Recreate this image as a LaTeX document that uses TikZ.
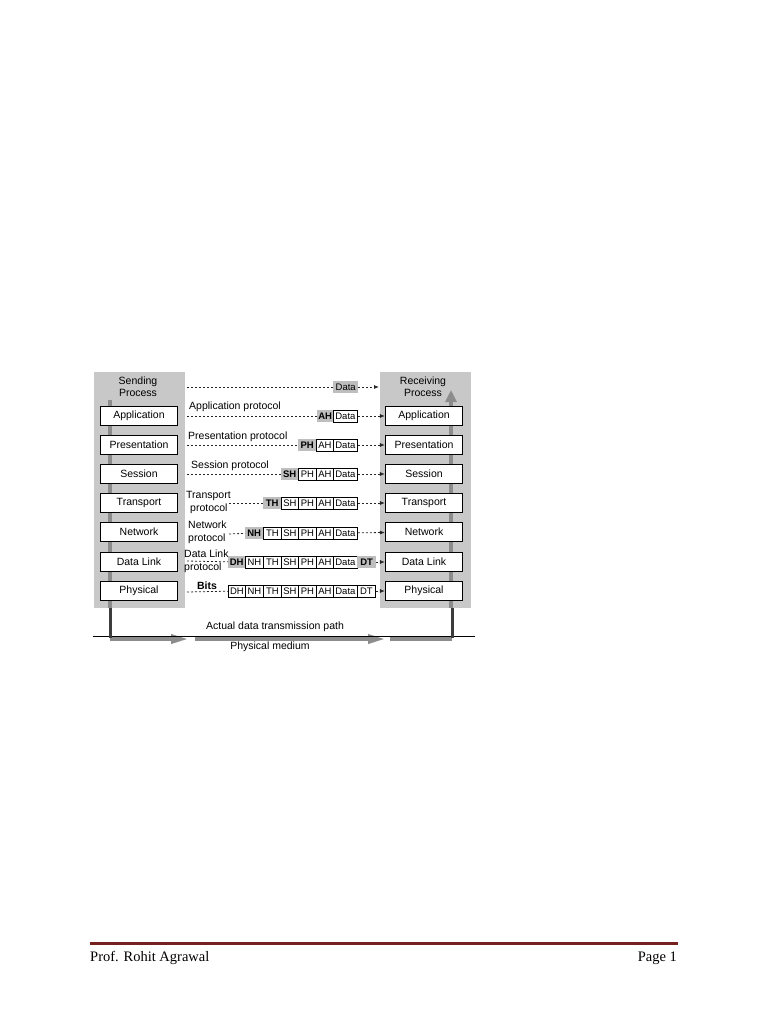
\documentclass[tikz,border=0pt]{standalone}
\usepackage{fontspec}
\setmainfont{Liberation Sans}
\newfontfamily\footfont{Liberation Serif}
\usepackage{tikz}
\usetikzlibrary{arrows.meta}
\definecolor{panelgray}{RGB}{200,200,200}
\definecolor{hdrgray}{RGB}{190,190,190}
\definecolor{bargray}{RGB}{140,140,140}
\definecolor{wiregray}{RGB}{60,60,60}
\definecolor{footred}{RGB}{118,32,32}

\begin{document}
\begin{tikzpicture}[x=1pt,y=-1pt]
\tikzstyle{panel}=[rectangle, fill=panelgray, minimum width=91pt, minimum height=236pt, inner sep=0pt]
\tikzstyle{layer}=[rectangle, draw=black, line width=1.1pt, fill=white, minimum width=77pt, minimum height=19pt, inner sep=0pt, font=\fontsize{10.5}{12}\selectfont]
\tikzstyle{hdr}=[rectangle, fill=hdrgray, anchor=west, minimum height=12pt, inner sep=0pt, font=\fontsize{9.5}{11}\selectfont\bfseries]
\tikzstyle{cell}=[rectangle, draw=black, line width=0.8pt, fill=white, anchor=west, minimum height=12pt, inner sep=0pt, font=\fontsize{9.5}{11}\selectfont]
\tikzstyle{lbl}=[inner sep=0pt, anchor=west, align=left, font=\fontsize{10.5}{13}\selectfont]
\tikzstyle{proto}=[line width=0.8pt, black!85, dash pattern=on 2pt off 2pt]
\tikzstyle{pass}=[proto, -{Latex[length=5pt,width=4pt]}]
\tikzstyle{bar}=[line width=4.5pt, bargray]
\tikzstyle{route}=[line width=3.5pt, bargray]

  \useasboundingbox (0,0) rectangle (768,1024);

  % sending and receiving sides
  \node[panel] (spanel) at (139,490) {};
  \node[panel] (rpanel) at (425,490) {};
  \node[align=center, font=\fontsize{10.5}{12}\selectfont] (slbl) at (138,387) {Sending\\Process};
  \node[align=center, font=\fontsize{10.5}{12}\selectfont] (rlbl) at (423,387) {Receiving\\Process};

  \draw[bar] (110,400) -- (110,608);
  \draw[bar, -{Triangle[length=12pt,width=11pt]}] (451,608) -- (451,390);

  \node[layer] (sApp)  at (139,416) {Application};
  \node[layer] (sPres) at (139,445) {Presentation};
  \node[layer] (sSes)  at (139,474) {Session};
  \node[layer] (sTra)  at (139,503) {Transport};
  \node[layer] (sNet)  at (139,532) {Network};
  \node[layer] (sDL)   at (139,562) {Data Link};
  \node[layer] (sPhy)  at (139,591) {Physical};

  \node[layer] (rApp)  at (424,416) {Application};
  \node[layer] (rPres) at (424,445) {Presentation};
  \node[layer] (rSes)  at (424,474) {Session};
  \node[layer] (rTra)  at (424,503) {Transport};
  \node[layer] (rNet)  at (424,532) {Network};
  \node[layer] (rDL)   at (424,562) {Data Link};
  \node[layer] (rPhy)  at (424,591) {Physical};

  % protocol labels
  \node[lbl] (lApp)  at (189,407) {Application protocol};
  \node[lbl] (lPres) at (188,437) {Presentation protocol};
  \node[lbl] (lSes)  at (191,466) {Session protocol};
  \node[lbl] (lTra)  at (186,502) {Transport\\\hspace{4pt}protocol};
  \node[lbl] (lNet)  at (188,532) {Network\\protocol};
  \node[lbl] (lDL)   at (184,561) {Data Link\\protocol};
  \node[font=\fontsize{10.5}{12}\selectfont\bfseries, inner sep=0pt] (lBits) at (207,586) {Bits};

  % headers and data
  \node[hdr, minimum width=25pt, font=\fontsize{9.5}{11}\selectfont] (da0) at (333,387) {Data};

  \node[hdr, minimum width=16pt] (ah1) at (317,416) {AH};
  \node[cell, minimum width=24pt] (da1) at (333,416) {Data};

  \node[hdr, minimum width=18pt] (ph2) at (298,445) {PH};
  \node[cell, minimum width=17pt] (ah2) at (316,445) {AH};
  \node[cell, minimum width=24pt] (da2) at (333,445) {Data};

  \node[hdr, minimum width=17pt] (sh3) at (281,474) {SH};
  \node[cell, minimum width=18pt] (ph3) at (298,474) {PH};
  \node[cell, minimum width=17pt] (ah3) at (316,474) {AH};
  \node[cell, minimum width=24pt] (da3) at (333,474) {Data};

  \node[hdr, minimum width=18pt] (th4) at (263,503) {TH};
  \node[cell, minimum width=17pt] (sh4) at (281,503) {SH};
  \node[cell, minimum width=18pt] (ph4) at (298,503) {PH};
  \node[cell, minimum width=17pt] (ah4) at (316,503) {AH};
  \node[cell, minimum width=24pt] (da4) at (333,503) {Data};

  \node[hdr, minimum width=18pt] (nh5) at (245,533) {NH};
  \node[cell, minimum width=18pt] (th5) at (263,533) {TH};
  \node[cell, minimum width=17pt] (sh5) at (281,533) {SH};
  \node[cell, minimum width=18pt] (ph5) at (298,533) {PH};
  \node[cell, minimum width=17pt] (ah5) at (316,533) {AH};
  \node[cell, minimum width=24pt] (da5) at (333,533) {Data};

  \node[hdr, minimum width=17pt] (dh6) at (228,562) {DH};
  \node[cell, minimum width=18pt] (nh6) at (245,562) {NH};
  \node[cell, minimum width=18pt] (th6) at (263,562) {TH};
  \node[cell, minimum width=17pt] (sh6) at (281,562) {SH};
  \node[cell, minimum width=18pt] (ph6) at (298,562) {PH};
  \node[cell, minimum width=17pt] (ah6) at (316,562) {AH};
  \node[cell, minimum width=24pt] (da6) at (333,562) {Data};
  \node[hdr, minimum width=19pt] (dt6) at (357,562) {DT};

  \node[cell, minimum width=17pt] (dh7) at (228,591) {DH};
  \node[cell, minimum width=18pt] (nh7) at (245,591) {NH};
  \node[cell, minimum width=18pt] (th7) at (263,591) {TH};
  \node[cell, minimum width=17pt] (sh7) at (281,591) {SH};
  \node[cell, minimum width=18pt] (ph7) at (298,591) {PH};
  \node[cell, minimum width=17pt] (ah7) at (316,591) {AH};
  \node[cell, minimum width=24pt] (da7) at (333,591) {Data};
  \node[cell, minimum width=18pt] (dt7) at (357,591) {DT};

  % peer-to-peer dashed paths
  \coordinate (p0) at (187,387);
  \coordinate (p1) at (187,416);
  \coordinate (p2) at (187,445);
  \coordinate (p3) at (187,474);
  \coordinate (p4) at (229,503);
  \coordinate (p5) at (229,534);
  \coordinate (p6) at (187,561);
  \coordinate (p7) at (187,592);
  \coordinate (rx0) at (379,387);

  \path (p0) edge [proto] (da0)
        (p1) edge [proto] (ah1)
        (p2) edge [proto] (ph2)
        (p3) edge [proto] (sh3)
        (p4) edge [proto] (th4)
        (p5) edge [proto] (nh5)
        (p6) edge [proto] (dh6)
        (p7) edge [proto] (dh7);

  \path (da0) edge [pass] (rx0)
        (da1) edge [pass] (rApp)
        (da2) edge [pass] (rPres)
        (da3) edge [pass] (rSes)
        (da4) edge [pass] (rTra)
        (da5) edge [pass] (rNet)
        (dt6) edge [pass] (rDL)
        (dt7) edge [pass] (rPhy);

  % physical medium
  \coordinate (sbot)  at (110,608);
  \coordinate (sfoot) at (110,639);
  \coordinate (g1) at (188,639);
  \coordinate (g2) at (195,639);
  \coordinate (g3) at (385,639);
  \coordinate (g4) at (390,639);
  \coordinate (rfoot) at (452,639);
  \coordinate (rbot)  at (452,608);
  \coordinate (medL) at (93,636);
  \coordinate (medR) at (475,636);

  \draw[route, -{Triangle[length=17pt,width=9pt]}] (sfoot) -- (g1);
  \draw[route, -{Triangle[length=17pt,width=9pt]}] (g2) -- (g3);
  \draw[route] (g4) -- (rfoot);
  \draw[line width=0.8pt] (medL) -- (medR);
  \draw[line width=3pt, wiregray] (sbot) -- ([yshift=1.5pt]sfoot);
  \draw[line width=3pt, wiregray] (rbot) -- ([yshift=1.5pt]rfoot);

  \node[font=\fontsize{10.5}{12}\selectfont] (path) at (275,627) {Actual data transmission path};
  \node[font=\fontsize{10.5}{12}\selectfont] (medium) at (270,647) {Physical medium};

  % page footer
  \coordinate (fL) at (90,943);
  \coordinate (fR) at (678,943);
  \draw[line width=3pt, footred] (fL) -- (fR);
  \node[anchor=west, inner sep=0pt, font=\footfont\fontsize{14.5}{16}\selectfont] (author) at (90,958) {Prof. Rohit Agrawal};
  \node[anchor=east, inner sep=0pt, font=\footfont\fontsize{14.5}{16}\selectfont] (page) at (677,958) {Page 1};

\end{tikzpicture}
\end{document}
